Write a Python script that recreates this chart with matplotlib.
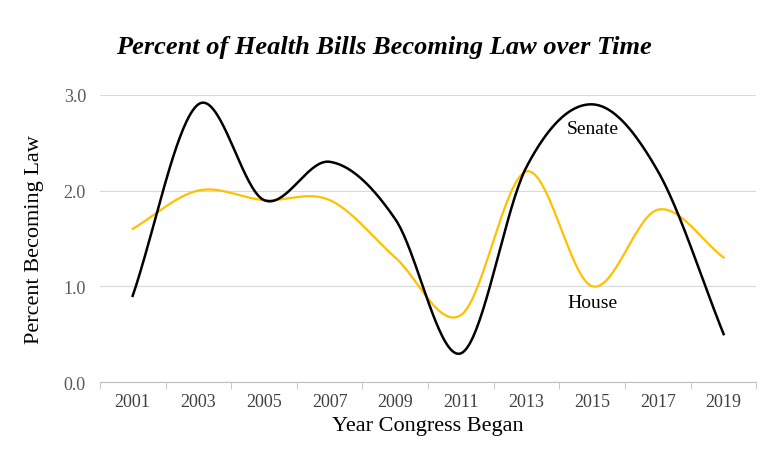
import numpy as np
import matplotlib
matplotlib.use('Agg')
import matplotlib.pyplot as plt

plt.rcParams['font.family'] = ['Liberation Serif', 'DejaVu Serif']

years = ['2001', '2003', '2005', '2007', '2009', '2011', '2013', '2015', '2017', '2019']
senate = [0.9, 2.9, 1.9, 2.3, 1.7, 0.3, 2.25, 2.9, 2.2, 0.5]
house = [1.6, 2.0, 1.9, 1.9, 1.3, 0.7, 2.2, 1.0, 1.8, 1.3]


def smooth(x, y, n=40):
    # Catmull-Rom style curve through the points (like Excel's smoothed line)
    x = np.asarray(x, float)
    y = np.asarray(y, float)
    px = np.concatenate([[2 * x[0] - x[1]], x, [2 * x[-1] - x[-2]]])
    py = np.concatenate([[2 * y[0] - y[1]], y, [2 * y[-1] - y[-2]]])
    xs, ys = [], []
    t = np.linspace(0, 1, n)
    for i in range(1, len(px) - 2):
        p0, p1, p2, p3 = py[i - 1], py[i], py[i + 1], py[i + 2]
        c1 = p1 + (p2 - p0) / 6
        c2 = p2 - (p3 - p1) / 6
        ys.append((1 - t) ** 3 * p1 + 3 * (1 - t) ** 2 * t * c1 + 3 * (1 - t) * t ** 2 * c2 + t ** 3 * p2)
        xs.append(px[i] + t * (px[i + 1] - px[i]))
    return np.concatenate(xs), np.concatenate(ys)


fig, ax = plt.subplots(figsize=(7.68, 4.56), dpi=100)
fig.subplots_adjust(left=0.13, right=0.985, top=0.79, bottom=0.16)
xi = np.arange(len(years))
sx, sy = smooth(xi, senate)
hx, hy = smooth(xi, house)
ax.plot(hx, hy, color='#FFC000', lw=1.6)
ax.plot(sx, sy, color='black', lw=1.8)

ax.text(7, 2.6, 'Senate', fontsize=14, ha='center')
ax.text(7, 0.78, 'House', fontsize=14, ha='center')

ax.set_xlim(-0.5, len(years) - 0.5)
ax.set_ylim(0, 3.0)
ax.set_xticks(xi)
ax.set_xticklabels(years, fontsize=13, color='#404040')
ax.set_yticks([0, 1, 2, 3])
ax.set_yticklabels(['0.0', '1.0', '2.0', '3.0'], fontsize=13, color='#595959')
ax.set_xticks(np.arange(-0.5, len(years)), minor=True)
ax.tick_params(axis='x', which='major', length=0, pad=8)
ax.tick_params(axis='x', which='minor', length=5, color='#BFBFBF')
ax.tick_params(axis='y', length=0, pad=10)
ax.grid(axis='y', color='#D9D9D9', lw=0.8)
ax.set_axisbelow(True)
for s in ['top', 'right', 'left']:
    ax.spines[s].set_visible(False)
ax.spines['bottom'].set_color('#BFBFBF')

ax.set_xlabel('Year Congress Began', fontsize=16)
ax.set_ylabel('Percent Becoming Law', fontsize=16, labelpad=14)
fig.suptitle('Percent of Health Bills Becoming Law over Time', fontsize=19,
             fontweight='bold', fontstyle='italic', y=0.92)

fig.savefig('out.png')
